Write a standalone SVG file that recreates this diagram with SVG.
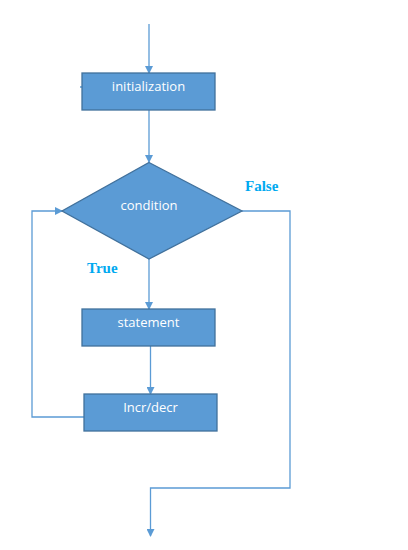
<svg xmlns="http://www.w3.org/2000/svg" width="408" height="550" viewBox="0 0 408 550">
<style>
.box{fill:#5B9BD5;stroke:#41719C;stroke-width:1.3}
.t{fill:#fff;font-family:"Open Sans","Liberation Sans",sans-serif;font-size:13px;text-anchor:middle}
.c{fill:none;stroke:#5B9BD5;stroke-width:1.3}
.lbl{fill:#00A9F0;font-family:"Liberation Serif",serif;font-weight:bold;font-size:15px}
</style>
<defs>
<marker id="a" markerWidth="8" markerHeight="8" refX="7" refY="4" orient="auto" markerUnits="userSpaceOnUse">
<path d="M0,0 L8,4 L0,8 Z" fill="#5B9BD5"/>
</marker>
</defs>
<rect width="408" height="550" fill="#fff"/>
<g id="connectors">
<path class="c" d="M149,24 V73" marker-end="url(#a)"/>
<path class="c" d="M149,110 V162" marker-end="url(#a)"/>
<path class="c" d="M149,259 V309" marker-end="url(#a)"/>
<path class="c" d="M150.5,346 V394" marker-end="url(#a)"/>
<path class="c" d="M84,417 H32 V211 H62" marker-end="url(#a)"/>
<path class="c" d="M242,211 H290 V488 H150.5 V536" marker-end="url(#a)"/>
<path class="c" d="M80,87 H82"/>
</g>
<g id="init">
<rect class="box" x="82" y="73" width="133" height="37"/>
<text class="t" x="148.5" y="91">initialization</text>
</g>
<g id="condition">
<polygon class="box" points="149,162.5 242,211 149,259 62,211"/>
<text class="t" x="149" y="210">condition</text>
</g>
<g id="statement">
<rect class="box" x="82" y="309" width="133" height="37"/>
<text class="t" x="148.5" y="327">statement</text>
</g>
<g id="incr">
<rect class="box" x="84" y="394" width="133" height="37"/>
<text class="t" x="150.5" y="412">Incr/decr</text>
</g>
<g id="labels">
<text class="lbl" x="245" y="191">False</text>
<text class="lbl" x="87" y="273">True</text>
</g>
</svg>
